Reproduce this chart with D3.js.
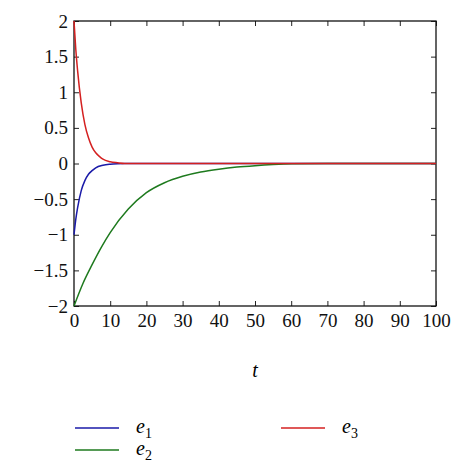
<!DOCTYPE html><html><head><meta charset="utf-8"><script src="https://cdn.jsdelivr.net/npm/d3@7"></script>
<style>body{margin:0;background:#fff}svg text{font-family:"Liberation Serif",serif}</style></head><body><svg id="c" width="474" height="474"></svg><script>
const e1T=[0,0.5,1,2,3,4,5,6,8,10,12,14,100];
const e1V=[-1,-0.78,-0.62,-0.38,-0.24,-0.15,-0.1,-0.06,-0.025,-0.01,-0.003,0,0];
const e2T=[0,2.5,5,7.5,10,15,20,25,30,35,40,45,50,55,60,70,100];
const e2V=[-2,-1.68,-1.42,-1.18,-0.97,-0.64,-0.41,-0.27,-0.18,-0.12,-0.08,-0.05,-0.03,-0.015,-0.005,0,0];
const e3T=[0,0.5,1,2,3,4,5,6,7,8,10,12,14,100];
const e3V=[2,1.6,1.3,0.85,0.55,0.36,0.23,0.15,0.1,0.06,0.025,0.01,0,0];
const xTicks=[0,10,20,30,40,50,60,70,80,90,100];
const yTicks=[-2,-1.5,-1,-0.5,0,0.5,1,1.5,2];
const svg=d3.select("#c");
const L=74,R=436,T=21,B=306;
const x=d3.scaleLinear().domain([0,100]).range([L,R]);
const y=d3.scaleLinear().domain([-2,2]).range([B,T]);
const fmt=d=>String(d).replace("-","\u2212");
const gs=[
svg.append("g").attr("transform",`translate(0,${B})`).call(d3.axisBottom(x).tickValues(xTicks).tickSize(-5).tickPadding(8).tickFormat(fmt)),
svg.append("g").attr("transform",`translate(0,${T})`).call(d3.axisTop(x).tickValues(xTicks).tickSize(-5).tickFormat("")),
svg.append("g").attr("transform",`translate(${L},0)`).call(d3.axisLeft(y).tickValues(yTicks).tickSize(-5).tickPadding(6).tickFormat(fmt)),
svg.append("g").attr("transform",`translate(${R},0)`).call(d3.axisRight(y).tickValues(yTicks).tickSize(-5).tickFormat(""))];
gs.forEach(g=>g.attr("font-family","Liberation Serif").attr("font-size",19));
svg.selectAll(".domain").remove();
svg.selectAll(".tick text").style("font-size","19px").style("font-family","'Liberation Serif',serif").attr("fill","#111");
svg.selectAll(".tick line").attr("stroke","#222");
svg.append("rect").attr("x",L).attr("y",T).attr("width",R-L).attr("height",B-T).attr("fill","none").attr("stroke","#111").attr("stroke-width",1.3);
const line=d3.line().x(d=>x(d[0])).y(d=>y(d[1])).curve(d3.curveMonotoneX);
const series=[[e1T,e1V,"#1a1aa8"],[e2T,e2V,"#1e7a1e"],[e3T,e3V,"#d42020"]];
series.forEach(([t,v,c])=>svg.append("path").attr("d",line(t.map((d,i)=>[d,v[i]]))).attr("fill","none").attr("stroke",c).attr("stroke-width",1.5));
svg.append("text").attr("x",255).attr("y",377).attr("font-size",20).attr("font-style","italic").attr("text-anchor","middle").text("t");
const leg=[["1",75,428,"#1a1aa8"],["2",75,450,"#1e7a1e"],["3",281,428,"#d42020"]];
leg.forEach(([s,lx,ly,c])=>{
svg.append("line").attr("x1",lx).attr("x2",lx+44).attr("y1",ly).attr("y2",ly).attr("stroke",c).attr("stroke-width",1.5);
const t=svg.append("text").attr("x",lx+61).attr("y",ly+5).attr("font-size",20);
t.append("tspan").attr("font-style","italic").text("e");
t.append("tspan").attr("font-size",14).attr("dy",5).text(s);
});
</script></body></html>
